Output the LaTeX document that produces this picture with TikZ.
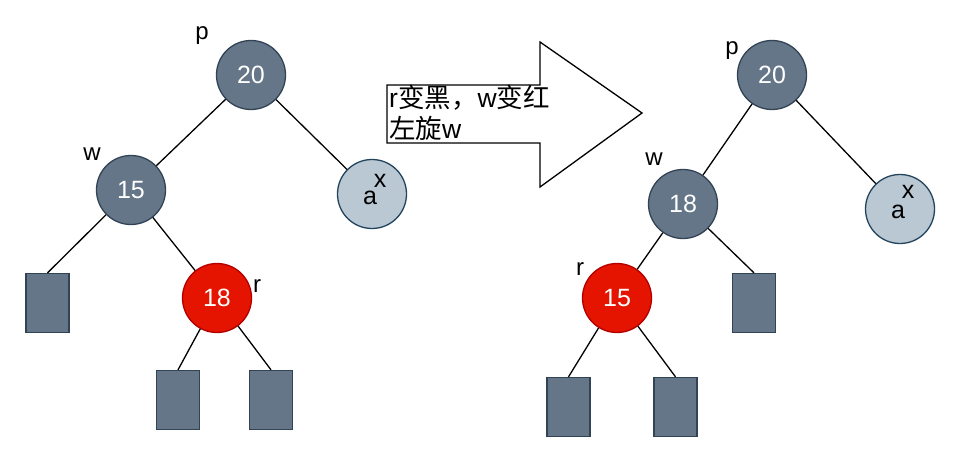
\documentclass[tikz,border=0pt]{standalone}
\usepackage{fontspec}
\setmainfont{Liberation Sans}
\newfontfamily\cjk{Noto Sans CJK SC}
\definecolor{nodegray}{HTML}{647687}
\definecolor{nodegrayd}{HTML}{314354}
\definecolor{lightn}{HTML}{BAC8D3}
\definecolor{lightnd}{HTML}{23445D}
\definecolor{redn}{HTML}{E51400}
\definecolor{rednd}{HTML}{B20000}
\begin{document}
\begin{tikzpicture}[x=1pt,y=-1pt,
 gnode/.style={circle, minimum size=69pt, inner sep=0pt, fill=nodegray, draw=nodegrayd, line width=1.3pt, text=white, font=\fontsize{25}{29}\selectfont},
 rnode/.style={gnode, fill=redn, draw=rednd},
 anode/.style={circle, minimum size=69pt, inner sep=0pt, fill=lightn, draw=lightnd, line width=1.3pt},
 leafbox/.style={rectangle, minimum width=43pt, minimum height=59pt, inner sep=0pt, fill=nodegray, draw=nodegrayd, line width=1.3pt},
 lbl/.style={font=\fontsize{24}{28}\selectfont, anchor=base, inner sep=0pt},
 albl/.style={font=\fontsize{25}{29}\selectfont, anchor=base, inner sep=0pt},
 edge/.style={draw=black, line width=1.3pt},
 atext/.style={font=\fontsize{26.5}{30}\selectfont, anchor=base west, inner sep=0pt}]
\useasboundingbox[fill=white] (0,0) rectangle (960,468);
% left tree
\node[gnode] (p1) at (251,75) {20};
\node[gnode] (w1) at (131,190) {15};
\node[anode] (a1) at (372,194) {};
\node[rnode] (r1) at (217,298) {18};
\node[leafbox] (l1) at (47.5,303) {};
\node[leafbox] (l2) at (178,400) {};
\node[leafbox] (l3) at (271,400) {};
\draw[edge] (p1) -- (w1);
\draw[edge] (p1) -- (a1);
\draw[edge] (w1) -- (l1.north);
\draw[edge] (w1) -- (r1);
\draw[edge] (r1) -- (l2.north);
\draw[edge] (r1) -- (l3.north);
\node[lbl] (pl1) at (202,40) {p};
\node[lbl] (wl1) at (92,160) {w};
\node[lbl] (rl1) at (257,292) {r};
\node[albl] (at1) at (370,204) {a};
\node[albl] (xt1) at (380,187) {x};
% arrow
\draw[line width=1.3pt, fill=white] (387,85) -- (540,85) -- (540,42) -- (642,113) -- (540,187) -- (540,143) -- (387,143) -- cycle;
\node[atext] (t1) at (389,107) {r{\cjk 变黑，}w{\cjk 变红}};
\node[atext] (t2) at (389,138) {{\cjk 左旋}w};
% right tree
\node[gnode] (p2) at (772,75) {20};
\node[gnode] (w2) at (683,204) {18};
\node[anode] (a2) at (900,209) {};
\node[rnode] (r2) at (617,298) {15};
\node[leafbox] (l4) at (754,303) {};
\node[leafbox] (l5) at (568.5,407) {};
\node[leafbox] (l6) at (675.5,407) {};
\draw[edge] (p2) -- (w2);
\draw[edge] (p2) -- (a2);
\draw[edge] (w2) -- (r2);
\draw[edge] (w2) -- (l4.north);
\draw[edge] (r2) -- (l5.north);
\draw[edge] (r2) -- (l6.north);
\node[lbl] (pl2) at (732,55) {p};
\node[lbl] (wl2) at (654,165) {w};
\node[lbl] (rl2) at (580,275) {r};
\node[albl] (at2) at (898,218) {a};
\node[albl] (xt2) at (908,198) {x};
\end{tikzpicture}
\end{document}
